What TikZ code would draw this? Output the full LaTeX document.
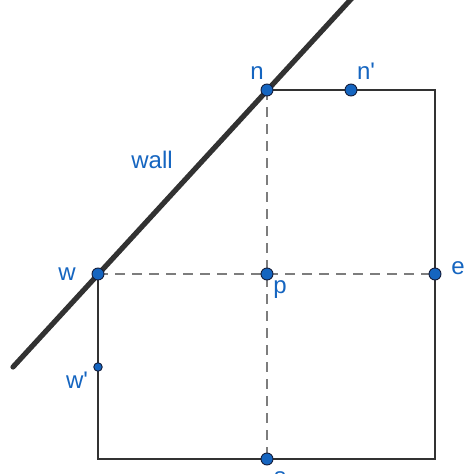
\documentclass[tikz,border=0pt]{standalone}
\usepackage{fontspec}
\setmainfont{Liberation Sans}
\begin{document}
\begin{tikzpicture}[x=1pt,y=-1pt,
  pt/.style={circle,fill=ptblue,draw=ptedge,line width=0.9pt,inner sep=0pt,minimum size=12pt},
  smallpt/.style={pt,minimum size=8.5pt},
  lbl/.style={text=lblblue,font=\fontsize{24}{24}\selectfont,inner sep=0pt},
  outline/.style={draw=edgegray,line width=1.9pt},
  dashline/.style={draw=dashgray,line width=2.1pt,dash pattern=on 10pt off 7pt},
  wallline/.style={draw=wallgray,line width=5.2pt,line cap=round}]
\definecolor{ptblue}{RGB}{21,101,192}
\definecolor{ptedge}{RGB}{20,30,60}
\definecolor{lblblue}{RGB}{21,101,192}
\definecolor{edgegray}{RGB}{50,50,50}
\definecolor{dashgray}{RGB}{125,125,125}
\definecolor{wallgray}{RGB}{50,50,50}
\useasboundingbox (0,0) rectangle (474,474);
\clip (0,0) rectangle (474,474);
% corners
\coordinate (ne) at (435,90);
\coordinate (se) at (435,459);
\coordinate (sw) at (98,459);
\coordinate (wa) at (13,367);
\coordinate (wb) at (353,-3);
% point positions
\coordinate (N) at (267,90);
\coordinate (Np) at (351,90);
\coordinate (E) at (435,274);
\coordinate (S) at (267,459);
\coordinate (W) at (98,274);
\coordinate (Wp) at (98,367);
\coordinate (P) at (267,274);
% dashed lines
\draw[dashline] (W) -- (E);
\draw[dashline] (N) -- (S);
% outline
\draw[outline,line join=miter] (N) -- (ne) -- (se) -- (sw) -- (W);
% wall
\draw[wallline] (wa) -- (wb);
% point nodes
\node[pt] (n) at (N) {};
\node[pt] (np) at (Np) {};
\node[pt] (e) at (E) {};
\node[pt] (s) at (S) {};
\node[pt] (w) at (W) {};
\node[smallpt] (wp) at (Wp) {};
\node[pt] (p) at (P) {};
% labels
\node[lbl] (ln) at (257,73) {n};
\node[lbl] (lnp) at (366,71) {n\textquotesingle};
\node[lbl] (lwall) at (152,160) {wall};
\node[lbl] (lw) at (67,274) {w};
\node[lbl] (lwp) at (77,380) {w\textquotesingle};
\node[lbl] (lp) at (280,290) {p};
\node[lbl] (le) at (458,268) {e};
\node[lbl] (ls) at (280,478) {s};
\end{tikzpicture}
\end{document}
